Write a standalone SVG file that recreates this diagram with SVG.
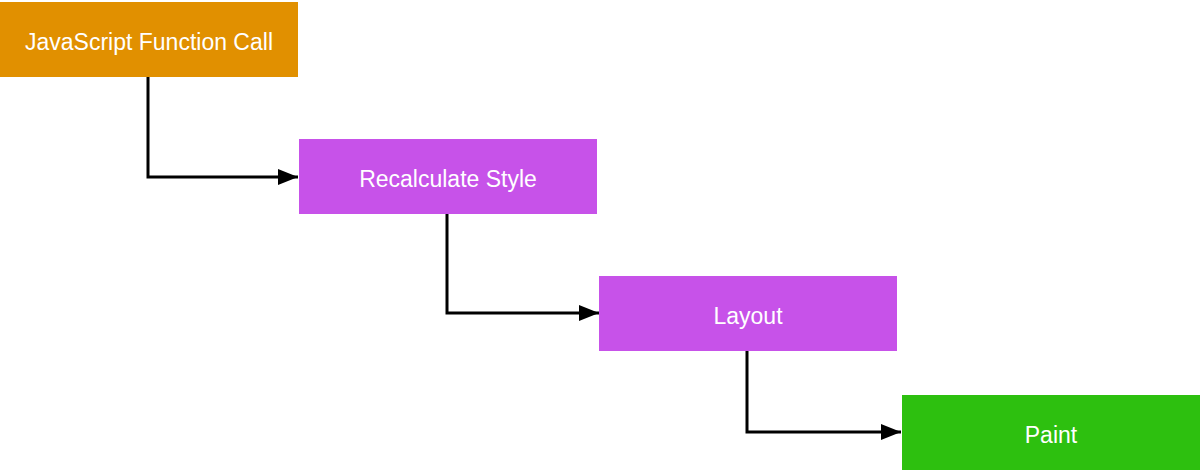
<svg xmlns="http://www.w3.org/2000/svg" width="1200" height="472" viewBox="0 0 1200 472">
<style>
  .lbl { font-family: "Liberation Sans", Arial, sans-serif; font-size: 23px; fill: #ffffff; text-anchor: middle; }
  .conn { fill: none; stroke: #000000; stroke-width: 3; }
</style>
<defs>
  <marker id="arrow" viewBox="0 0 20 16" refX="20" refY="8" markerWidth="20" markerHeight="16" markerUnits="userSpaceOnUse" orient="auto">
    <path d="M0,0 L20,8 L0,16 Z" fill="#000000"/>
  </marker>
</defs>
<rect width="1200" height="472" fill="#ffffff"/>
<g id="connectors">
  <path class="conn" d="M148,77 V177 H298" marker-end="url(#arrow)"/>
  <path class="conn" d="M447,214 V313 H599" marker-end="url(#arrow)"/>
  <path class="conn" d="M747,351 V432 H901" marker-end="url(#arrow)"/>
</g>
<g id="node-js">
  <rect x="0" y="2" width="298" height="75" fill="#E19000"/>
  <text class="lbl" x="149" y="50">JavaScript Function Call</text>
</g>
<g id="node-style">
  <rect x="299" y="139" width="298" height="75" fill="#C752E9"/>
  <text class="lbl" x="448" y="187">Recalculate Style</text>
</g>
<g id="node-layout">
  <rect x="599" y="276" width="298" height="75" fill="#C752E9"/>
  <text class="lbl" x="748" y="324">Layout</text>
</g>
<g id="node-paint">
  <rect x="902" y="395" width="298" height="75" fill="#2DC00F"/>
  <text class="lbl" x="1051" y="443">Paint</text>
</g>
</svg>
